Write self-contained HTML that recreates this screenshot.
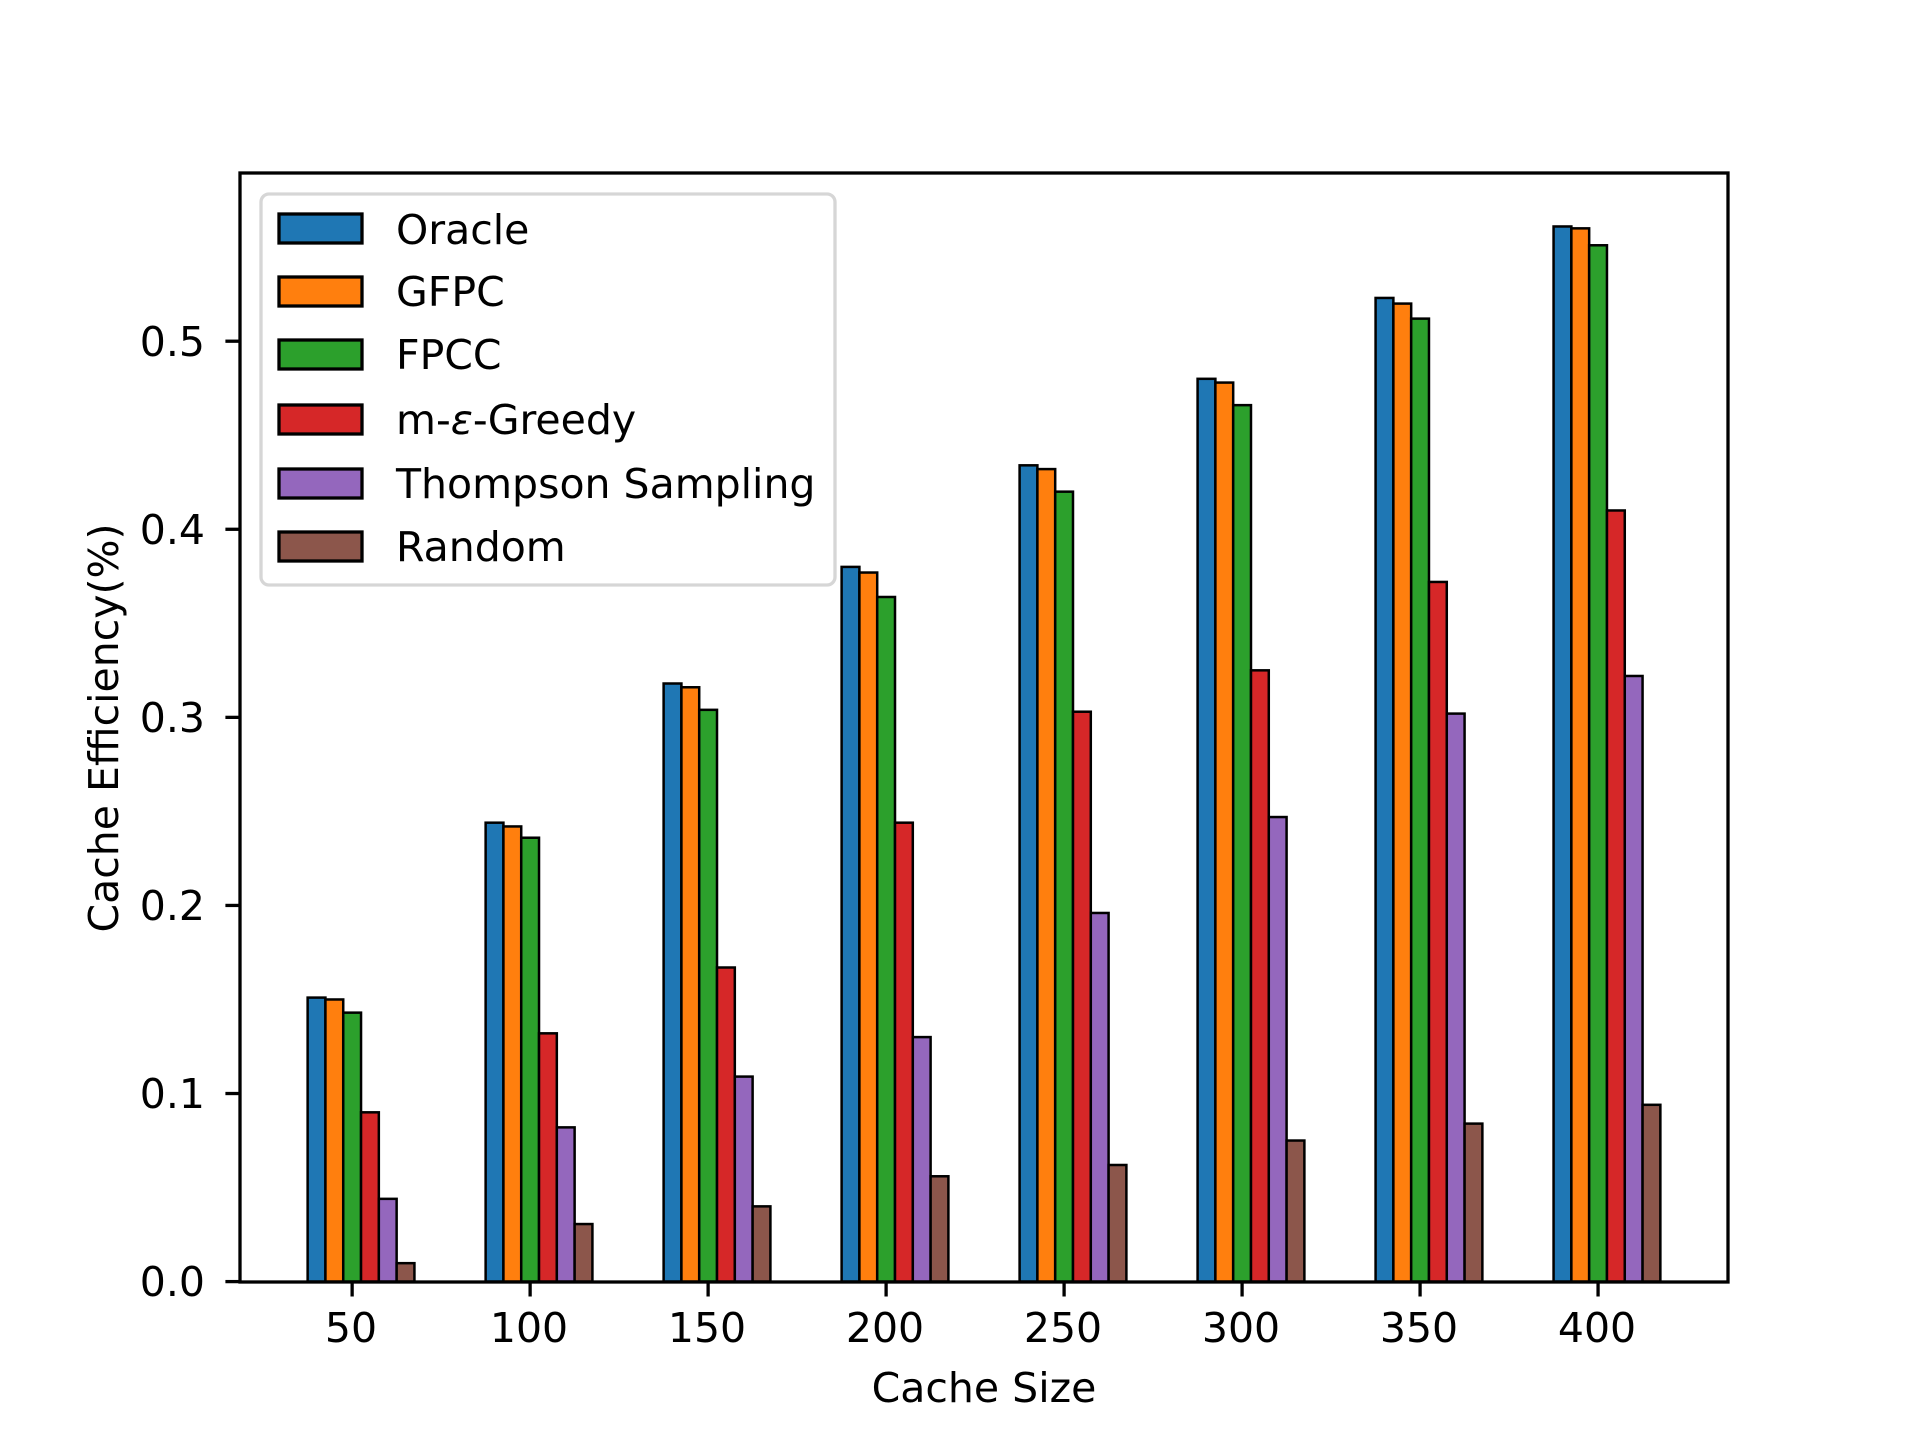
<!DOCTYPE html>
<html><head><meta charset="utf-8"><style>
html,body{margin:0;padding:0;background:#fff;}
svg{display:block;font-family:"DejaVu Sans","Liberation Sans",sans-serif;}
</style></head><body>
<svg id="s" width="1920" height="1440" viewBox="0 0 1920 1440" xmlns="http://www.w3.org/2000/svg">
<rect width="1920" height="1440" fill="#fff"/>
<g id="bars"></g>
<g id="ticks" stroke="#000" stroke-width="3.3"></g>
<g font-size="41" fill="#000">
<text x="351" y="1342" text-anchor="middle">50</text>
<text x="529" y="1342" text-anchor="middle">100</text>
<text x="707" y="1342" text-anchor="middle">150</text>
<text x="885" y="1342" text-anchor="middle">200</text>
<text x="1063" y="1342" text-anchor="middle">250</text>
<text x="1241" y="1342" text-anchor="middle">300</text>
<text x="1419" y="1342" text-anchor="middle">350</text>
<text x="1597" y="1342" text-anchor="middle">400</text>
<text x="205" y="1296" text-anchor="end">0.0</text>
<text x="205" y="1108" text-anchor="end">0.1</text>
<text x="205" y="920" text-anchor="end">0.2</text>
<text x="205" y="732" text-anchor="end">0.3</text>
<text x="205" y="544" text-anchor="end">0.4</text>
<text x="205" y="356" text-anchor="end">0.5</text>
<text x="984" y="1402" text-anchor="middle">Cache Size</text>
<text transform="translate(118,728) rotate(-90)" text-anchor="middle">Cache Efficiency(%)</text>
</g>
<rect x="240" y="173" width="1488" height="1109" fill="none" stroke="#000" stroke-width="3.3"/>
<rect x="261" y="194" width="574" height="391" rx="8" fill="#fff" fill-opacity="0.8" stroke="#d6d6d6" stroke-width="3.3"/>
<g stroke="#000" stroke-width="3.3">
<rect x="279" y="214" width="83" height="29" fill="#1f77b4"/>
<rect x="279" y="277" width="83" height="29" fill="#ff7f0e"/>
<rect x="279" y="340" width="83" height="29" fill="#2ca02c"/>
<rect x="279" y="405" width="83" height="29" fill="#d62728"/>
<rect x="279" y="469" width="83" height="29" fill="#9467bd"/>
<rect x="279" y="532" width="83" height="29" fill="#8c564b"/>
</g>
<g font-size="41" fill="#000">
<text x="396" y="244">Oracle</text>
<text x="396" y="306">GFPC</text>
<text x="396" y="369">FPCC</text>
<text x="396" y="434">m-<tspan font-style="italic">ε</tspan>-Greedy</text>
<text x="396" y="498">Thompson Sampling</text>
<text x="396" y="561">Random</text>
</g>
</svg>
<script>
var data=[
[0.151,0.150,0.143,0.090,0.044,0.0098],
[0.244,0.242,0.236,0.132,0.082,0.0306],
[0.318,0.316,0.304,0.167,0.109,0.040],
[0.380,0.377,0.364,0.244,0.130,0.056],
[0.434,0.432,0.420,0.303,0.196,0.062],
[0.480,0.478,0.466,0.325,0.247,0.075],
[0.523,0.520,0.512,0.372,0.302,0.084],
[0.561,0.560,0.551,0.410,0.322,0.094]];
var cols=["#1f77b4","#ff7f0e","#2ca02c","#d62728","#9467bd","#8c564b"];
var k=1488/418;function X(v){return 240+(v-18.5)*k;}
function Y(v){return 1281.6-v*1880.8;}
var ns="http://www.w3.org/2000/svg",g=document.getElementById("bars"),t=document.getElementById("ticks");
data.forEach(function(r,gi){var c=50*(gi+1);
 r.forEach(function(v,i){var e=document.createElementNS(ns,"rect");
  var l=X(c+(i-2)*5-2.5);e.setAttribute("x",l);e.setAttribute("width",5*k);
  e.setAttribute("y",Y(v));e.setAttribute("height",1281.6-Y(v));
  e.setAttribute("fill",cols[i]);e.setAttribute("stroke","#000");e.setAttribute("stroke-width","2.5");g.appendChild(e);});
 var ln=document.createElementNS(ns,"line");var x=X(c);
 ln.setAttribute("x1",x);ln.setAttribute("x2",x);ln.setAttribute("y1",1282);ln.setAttribute("y2",1296.5);t.appendChild(ln);});
for(var i=0;i<=5;i++){var ln=document.createElementNS(ns,"line");var y=Y(i/10);
 ln.setAttribute("x1",225.4);ln.setAttribute("x2",240);ln.setAttribute("y1",y);ln.setAttribute("y2",y);t.appendChild(ln);}
</script>
</body></html>
